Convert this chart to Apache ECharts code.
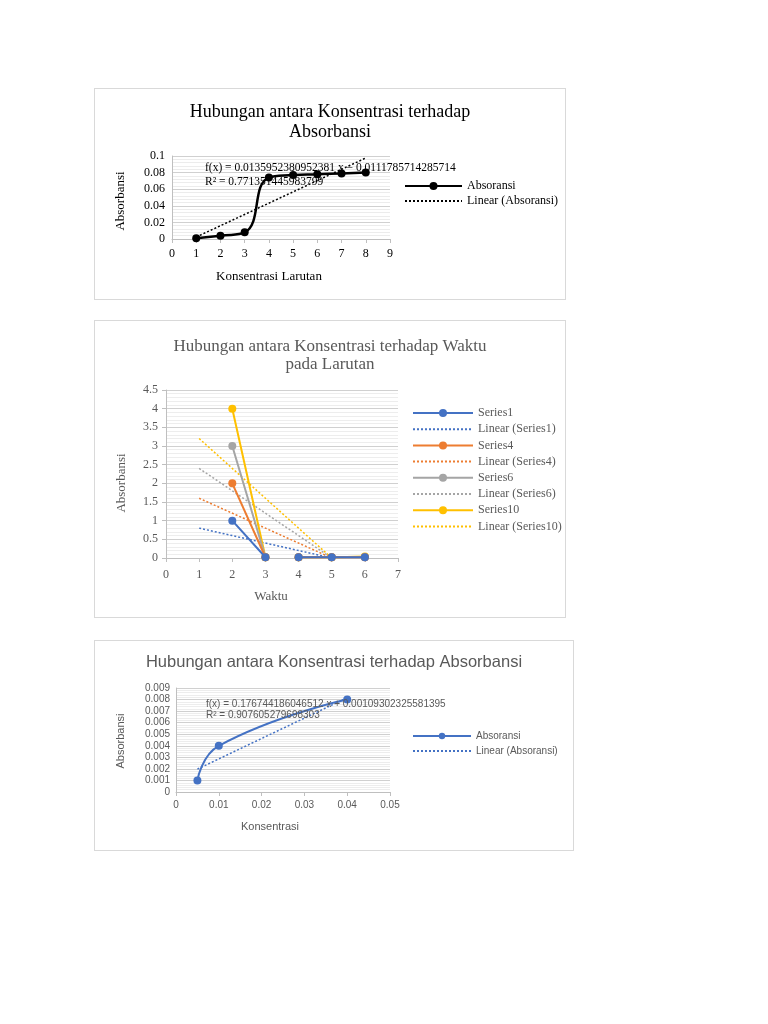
<!DOCTYPE html>
<html><head><meta charset="utf-8">
<script src="https://cdn.jsdelivr.net/npm/echarts@6/dist/echarts.min.js"></script>
<style>
html,body{margin:0;padding:0;background:#fff;width:768px;height:1024px;overflow:hidden}
.box{position:absolute;border:1px solid #d9d9d9;background:#fff;box-sizing:border-box}
</style></head><body>
<div id="c1" class="box" style="left:94px;top:88px;width:472px;height:212px"></div>
<div id="c2" class="box" style="left:94px;top:320px;width:472px;height:298px"></div>
<div id="c3" class="box" style="left:94px;top:640px;width:480px;height:211px"></div>
<script>
// ---------- Data ----------
// Chart 1
const c1X = [1, 2, 3, 4, 5, 6, 7, 8];
const c1Abs = [0.001, 0.004, 0.008, 0.074, 0.077, 0.078, 0.079, 0.080];
const c1TrendX = [1, 8];
const c1TrendY = [0.0024, 0.0976];
const c1Eq = "f(x) = 0.0135952380952381 x − 0.0111785714285714";
const c1R2 = "R² = 0.771351445983799";

// Chart 2
const c2X = [2, 3, null, 4, 5, 6];
const c2Series1 = [1, 0.02, null, 0.02, 0.02, 0.02];
const c2Series4 = [2, 0.02, null, 0.02, 0.02, 0.02];
const c2Series6 = [3, 0.02, null, 0.02, 0.02, 0.02];
const c2Series10 = [4, 0.02, null, 0.02, 0.02, 0.04];
const c2TrendX = [1, 5];
const c2Trend1 = [0.8, 0];
const c2Trend4 = [1.6, 0];
const c2Trend6 = [2.4, 0];
const c2Trend10 = [3.2, 0];

// Chart 3
const c3X = [0.005, 0.01, 0.04];
const c3Abs = [0.001, 0.004, 0.008];
const c3TrendX = [0.005, 0.04];
const c3TrendY = [0.00198, 0.00816];
const c3Eq = "f(x) = 0.176744186046512 x + 0.00109302325581395";
const c3R2 = "R² = 0.907605279698303";

function pairs(xs, ys) { return xs.map((x, i) => (x === null || ys[i] === null) ? [null, null] : [x, ys[i]]); }

const SERIF = "'Liberation Serif','DejaVu Serif',serif";
const SANS = "'Liberation Sans','Open Sans',sans-serif";
const hideMarker = { opacity: 0 };

// ---------- Chart 1 ----------
const ch1 = echarts.init(document.getElementById('c1'));
ch1.setOption({
  animation: false,
  title: { text: 'Hubungan antara Konsentrasi terhadap\nAbsorbansi', left: 'center', top: 8,
    textStyle: { fontFamily: SERIF, fontSize: 18, fontWeight: 'normal', color: '#000', lineHeight: 20 } },
  grid: { left: 77, top: 67, width: 218, height: 83 },
  xAxis: { type: 'value', min: 0, max: 9, interval: 1,
    axisLine: { show: true, lineStyle: { color: '#bfbfbf' } },
    axisTick: { show: true, length: 4, lineStyle: { color: '#bfbfbf' } },
    axisLabel: { fontFamily: SERIF, fontSize: 12, color: '#000', margin: 9 },
    splitLine: { show: false } },
  yAxis: { type: 'value', min: 0, max: 0.1, interval: 0.02,
    axisLine: { show: true, lineStyle: { color: '#bfbfbf' } },
    axisTick: { show: false },
    axisLabel: { fontFamily: SERIF, fontSize: 12, color: '#000', margin: 7 },
    splitLine: { show: true, lineStyle: { color: '#d0d0d0' } },
    minorTick: { show: false, splitNumber: 5 },
    minorSplitLine: { show: true, lineStyle: { color: '#ececec' } } },
  legend: { orient: 'vertical', left: 304, top: 86, itemWidth: 57, itemHeight: 10, itemGap: 3,
    textStyle: { fontFamily: SERIF, fontSize: 12, color: '#000' },
    data: [{ name: 'Absoransi' }, { name: 'Linear (Absoransi)', itemStyle: hideMarker }] },
  series: [
    { name: 'Absoransi', type: 'line', data: pairs(c1X, c1Abs), smooth: 0.5,
      symbol: 'circle', symbolSize: 8, lineStyle: { color: '#000', width: 2.5 }, itemStyle: { color: '#000' }, z: 3 },
    { name: 'Linear (Absoransi)', type: 'line', data: pairs(c1TrendX, c1TrendY), symbol: 'none',
      lineStyle: { color: '#000', width: 1.5, type: [2, 2] }, itemStyle: { color: '#000' }, z: 2 }
  ],
  graphic: [
    { type: 'text', left: 110, top: 73, z: 10, style: { text: c1Eq, font: '11.5px ' + SERIF, fill: '#000' } },
    { type: 'text', left: 110, top: 87, z: 10, style: { text: c1R2, font: '11.5px ' + SERIF, fill: '#000' } },
    { type: 'text', x: 26, y: 112, rotation: Math.PI / 2, z: 10,
      style: { text: 'Absorbansi', font: '13px ' + SERIF, fill: '#000', textAlign: 'center', textVerticalAlign: 'middle' } },
    { type: 'text', x: 174, y: 188, z: 10,
      style: { text: 'Konsentrasi Larutan', font: '13px ' + SERIF, fill: '#000', textAlign: 'center', textVerticalAlign: 'middle' } }
  ]
});

// ---------- Chart 2 ----------
const ch2 = echarts.init(document.getElementById('c2'));
const cols = ['#4472C4', '#ED7D31', '#A5A5A5', '#FFC000'];
const mainData = [c2Series1, c2Series4, c2Series6, c2Series10];
const trendData = [c2Trend1, c2Trend4, c2Trend6, c2Trend10];
const names = ['Series1', 'Series4', 'Series6', 'Series10'];
const s2 = [];
const leg2 = [];
for (let i = 0; i < 4; i++) {
  leg2.push({ name: names[i] }, { name: 'Linear (' + names[i] + ')', itemStyle: hideMarker });
}
for (let i = 3; i >= 0; i--) {
  s2.push({ name: names[i], type: 'line', data: pairs(c2X, mainData[i]), smooth: 0.4, connectNulls: false,
    symbol: 'circle', symbolSize: 8, lineStyle: { color: cols[i], width: 2 }, itemStyle: { color: cols[i] }, z: 3 + (3 - i) });
  s2.push({ name: 'Linear (' + names[i] + ')', type: 'line', data: pairs(c2TrendX, trendData[i]), symbol: 'none',
    lineStyle: { color: cols[i], width: 1.5, type: [2, 2] }, itemStyle: { color: cols[i] }, z: 2 });
}
ch2.setOption({
  animation: false,
  title: { text: 'Hubungan antara Konsentrasi terhadap Waktu\npada Larutan', left: 'center', top: 12,
    textStyle: { fontFamily: SERIF, fontSize: 17, fontWeight: 'normal', color: '#595959', lineHeight: 18 } },
  grid: { left: 71, top: 69, width: 232, height: 168 },
  xAxis: { type: 'value', min: 0, max: 7, interval: 1,
    axisLine: { show: true, lineStyle: { color: '#bfbfbf' } },
    axisTick: { show: true, length: 4, lineStyle: { color: '#bfbfbf' } },
    axisLabel: { fontFamily: SERIF, fontSize: 12, color: '#595959', margin: 11 },
    splitLine: { show: false } },
  yAxis: { type: 'value', min: 0, max: 4.5, interval: 0.5,
    axisLine: { show: true, lineStyle: { color: '#bfbfbf' } },
    axisTick: { show: true, length: 4, lineStyle: { color: '#bfbfbf' } },
    axisLabel: { fontFamily: SERIF, fontSize: 12, color: '#595959', margin: 8 },
    splitLine: { show: true, lineStyle: { color: '#d0d0d0' } },
    minorTick: { show: false, splitNumber: 5 },
    minorSplitLine: { show: true, lineStyle: { color: '#ededed' } } },
  legend: { orient: 'vertical', left: 312, top: 81, itemWidth: 60, itemHeight: 10, itemGap: 4.2,
    textStyle: { fontFamily: SERIF, fontSize: 12, color: '#595959' }, data: leg2 },
  series: s2,
  graphic: [
    { type: 'text', x: 27, y: 162, rotation: Math.PI / 2, z: 10,
      style: { text: 'Absorbansi', font: '13px ' + SERIF, fill: '#595959', textAlign: 'center', textVerticalAlign: 'middle' } },
    { type: 'text', x: 176, y: 276, z: 10,
      style: { text: 'Waktu', font: '13px ' + SERIF, fill: '#595959', textAlign: 'center', textVerticalAlign: 'middle' } }
  ]
});

// ---------- Chart 3 ----------
const ch3 = echarts.init(document.getElementById('c3'));
ch3.setOption({
  animation: false,
  title: { text: 'Hubungan antara Konsentrasi terhadap Absorbansi', left: 234, textAlign: 'center', top: 8,
    textStyle: { fontFamily: SANS, fontSize: 16.5, fontWeight: 'normal', color: '#595959' } },
  grid: { left: 81, top: 47, width: 214, height: 104 },
  xAxis: { type: 'value', min: 0, max: 0.05, interval: 0.01,
    axisLine: { show: true, lineStyle: { color: '#bfbfbf' } },
    axisTick: { show: true, length: 4, lineStyle: { color: '#bfbfbf' } },
    axisLabel: { fontFamily: SANS, fontSize: 10, color: '#595959', margin: 8 },
    splitLine: { show: false } },
  yAxis: { type: 'value', min: 0, max: 0.009, interval: 0.001,
    axisLine: { show: true, lineStyle: { color: '#bfbfbf' } },
    axisTick: { show: false },
    axisLabel: { fontFamily: SANS, fontSize: 10, color: '#595959', margin: 6 },
    splitLine: { show: true, lineStyle: { color: '#d0d0d0' } },
    minorTick: { show: false, splitNumber: 5 },
    minorSplitLine: { show: true, lineStyle: { color: '#ededed' } } },
  legend: { orient: 'vertical', left: 312, top: 85, itemWidth: 58, itemHeight: 8, itemGap: 5,
    textStyle: { fontFamily: SANS, fontSize: 10, color: '#595959' },
    data: [{ name: 'Absoransi' }, { name: 'Linear (Absoransi)', itemStyle: hideMarker }] },
  series: [
    { name: 'Absoransi', type: 'line', data: pairs(c3X, c3Abs), smooth: 0.5,
      symbol: 'circle', symbolSize: 8, lineStyle: { color: '#4472C4', width: 2 }, itemStyle: { color: '#4472C4' }, z: 3 },
    { name: 'Linear (Absoransi)', type: 'line', data: pairs(c3TrendX, c3TrendY), symbol: 'none',
      lineStyle: { color: '#4472C4', width: 1.5, type: [2, 2] }, itemStyle: { color: '#4472C4' }, z: 2 }
  ],
  graphic: [
    { type: 'text', left: 111, top: 58, z: 10, style: { text: c3Eq, font: '10px ' + SANS, fill: '#595959' } },
    { type: 'text', left: 111, top: 69, z: 10, style: { text: c3R2, font: '10px ' + SANS, fill: '#595959' } },
    { type: 'text', x: 26, y: 100, rotation: Math.PI / 2, z: 10,
      style: { text: 'Absorbansi', font: '11px ' + SANS, fill: '#595959', textAlign: 'center', textVerticalAlign: 'middle' } },
    { type: 'text', x: 175, y: 186, z: 10,
      style: { text: 'Konsentrasi', font: '11px ' + SANS, fill: '#595959', textAlign: 'center', textVerticalAlign: 'middle' } }
  ]
});
</script>
</body></html>
